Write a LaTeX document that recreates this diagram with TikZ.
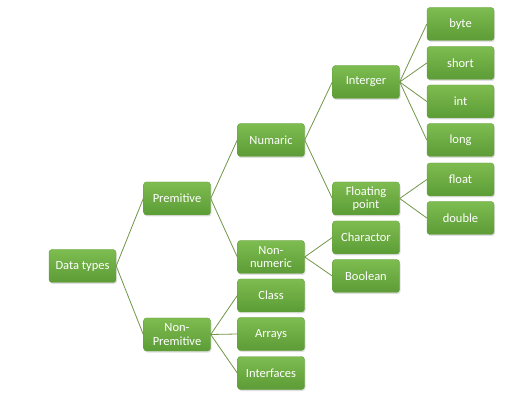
\documentclass[tikz,border=0pt]{standalone}
\usepackage{fontspec}
\setmainfont{Carlito}
\usetikzlibrary{shadows}
\definecolor{boxtop}{RGB}{126,188,80}
\definecolor{boxbottom}{RGB}{92,156,54}
\definecolor{boxline}{RGB}{104,160,66}
\definecolor{linkgreen}{RGB}{112,150,72}

\begin{document}
\begin{tikzpicture}[x=1pt,y=-1pt,
  type node/.style={rectangle,rounded corners=3pt,draw=boxline,top color=boxtop,bottom color=boxbottom,
    minimum width=67pt,minimum height=33pt,inner sep=1pt,align=center,text=white,
    font=\fontsize{12.5}{13.5}\selectfont,
    drop shadow={shadow xshift=1pt,shadow yshift=-1.5pt,opacity=0.25}}]
  \useasboundingbox (0,0) rectangle (511,411);
  \node[type node] (dt) at (82.5,266) {Data types};
  \node[type node] (prim) at (177,198.5) {Premitive};
  \node[type node] (nonprim) at (177,334.5) {Non-\\Premitive};
  \node[type node] (num) at (271,140) {Numaric};
  \node[type node] (nonnum) at (271,257) {Non-\\numeric};
  \node[type node] (class) at (271,295.5) {Class};
  \node[type node] (arrays) at (271,334) {Arrays};
  \node[type node] (interfaces) at (271,373) {Interfaces};
  \node[type node] (integer) at (366,82) {Interger};
  \node[type node] (floating) at (366,198.5) {Floating\\point};
  \node[type node] (charactor) at (366,237.5) {Charactor};
  \node[type node] (boolean) at (366,276) {Boolean};
  \node[type node] (byte) at (460.5,24) {byte};
  \node[type node] (short) at (460.5,63) {short};
  \node[type node] (int) at (460.5,101.5) {int};
  \node[type node] (long) at (460.5,140) {long};
  \node[type node] (float) at (460.5,179.5) {float};
  \node[type node] (double) at (460.5,218) {double};
  \path[draw=linkgreen,line width=0.8pt]
     (dt.east) edge (prim.west)
     (dt.east) edge (nonprim.west)
     (prim.east) edge (num.west)
     (prim.east) edge (nonnum.west)
     (nonprim.east) edge (class.west)
     (nonprim.east) edge (arrays.west)
     (nonprim.east) edge (interfaces.west)
     (num.east) edge (integer.west)
     (num.east) edge (floating.west)
     (nonnum.east) edge (charactor.west)
     (nonnum.east) edge (boolean.west)
     (integer.east) edge (byte.west)
     (integer.east) edge (short.west)
     (integer.east) edge (int.west)
     (integer.east) edge (long.west)
     (floating.east) edge (float.west)
     (floating.east) edge (double.west);
\end{tikzpicture}
\end{document}
